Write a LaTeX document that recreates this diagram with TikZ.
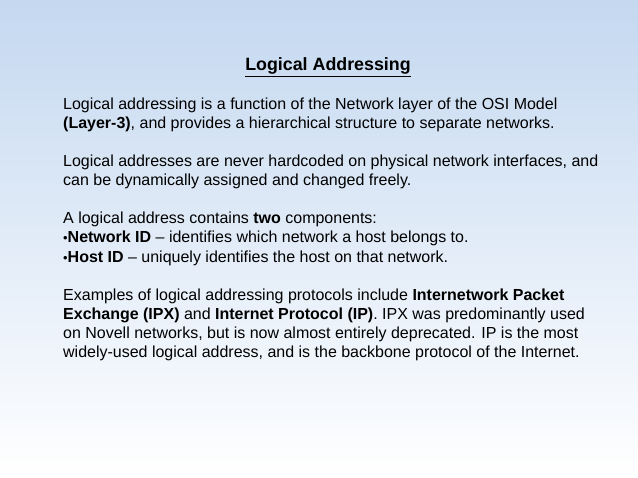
\documentclass[tikz,border=0pt]{standalone}
\usepackage{fontspec}
\setmainfont{Liberation Sans}
\begin{document}
\begin{tikzpicture}[x=1bp,y=-1bp,
  ln/.style={anchor=base west,inner sep=0pt,font=\fontsize{16.05}{19}\selectfont,text=black}]
\useasboundingbox (0,0) rectangle (638,478);
\shade[top color={rgb,255:red,196;green,216;blue,240},bottom color=white] (0,0) rectangle (638,478);
\node[ln,anchor=base,font=\fontsize{17.9}{20}\selectfont] (t) at (328,71) {\underline{\textbf{Logical Addressing}}};
\node[ln] (a1) at (63,110) {Logical addressing is a function of the Network layer of the OSI Model};
\node[ln] (a2) at (63,129) {\textbf{(Layer-3)}, and provides a hierarchical structure to separate networks.};
\node[ln] (b1) at (63,167) {Logical addresses are never hardcoded on physical network interfaces, and};
\node[ln] (b2) at (63,186) {can be dynamically assigned and changed freely.};
\node[ln] (c1) at (63,224) {A logical address contains \textbf{two} components:};
\node[ln] (c2) at (63,243) {{\fontsize{13}{13}\selectfont•}\textbf{Network ID} – identifies which network a host belongs to.};
\node[ln] (c3) at (63,262) {{\fontsize{13}{13}\selectfont•}\textbf{Host ID} – uniquely identifies the host on that network.};
\node[ln] (d1) at (63,300) {Examples of logical addressing protocols include \textbf{Internetwork Packet}};
\node[ln] (d2) at (63,319) {\textbf{Exchange (IPX)} and \textbf{Internet Protocol (IP)}. IPX was predominantly used};
\node[ln] (d3) at (63,338) {on Novell networks, but is now almost entirely deprecated. IP is the most};
\node[ln] (d4) at (63,357) {widely-used logical address, and is the backbone protocol of the Internet.};
\end{tikzpicture}
\end{document}
